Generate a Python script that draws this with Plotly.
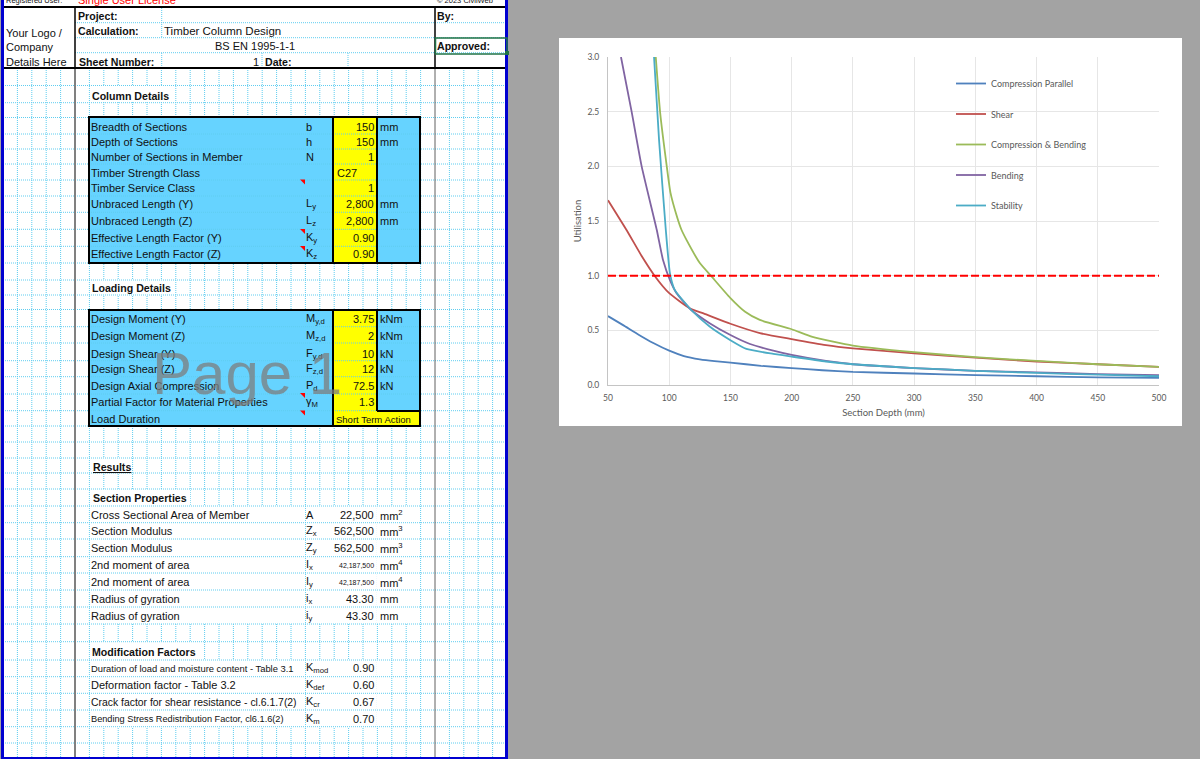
import plotly.graph_objects as go

W = 1200
H = 759

# chart data
x_axial = [50, 62, 75, 87, 100, 112, 125, 137, 150, 175, 200, 225, 250, 300, 350, 400, 450, 500]
compression_parallel = [0.63, 0.55, 0.46, 0.384, 0.314, 0.265, 0.235, 0.218, 0.205, 0.175, 0.155, 0.135, 0.12, 0.105, 0.09, 0.08, 0.07, 0.065]

x_shear = [50, 65, 78, 88, 100, 117, 128, 150, 174, 200, 228, 250, 300, 350, 400, 450, 500]
shear = [1.69, 1.42, 1.17, 1.0, 0.84, 0.70, 0.655, 0.56, 0.475, 0.42, 0.365, 0.335, 0.29, 0.25, 0.215, 0.19, 0.165]

x_comb = [89, 92.6, 98, 101, 106.6, 110, 114, 125, 134, 150, 162, 174, 200, 217, 250, 300, 350, 400, 450, 500]
compression_bending = [3.0, 2.49, 2.0, 1.76, 1.53, 1.42, 1.33, 1.115, 1.0, 0.795, 0.67, 0.595, 0.51, 0.44, 0.36, 0.30, 0.255, 0.22, 0.19, 0.165]

x_bend = [60.6, 69.3, 77.5, 89.8, 95, 100.6, 106, 118, 133, 150, 166, 185, 200, 228, 250, 300, 350, 400, 450, 500]
bending = [3.0, 2.5, 2.0, 1.42, 1.14, 0.96, 0.84, 0.686, 0.565, 0.457, 0.375, 0.314, 0.275, 0.22, 0.19, 0.155, 0.13, 0.115, 0.10, 0.09]

x_stab = [87.6, 91.7, 97.2, 100.6, 104.5, 118, 133, 150, 163, 185, 200, 228, 250, 300, 350, 400, 450, 500]
stability = [3.0, 2.24, 1.42, 1.02, 0.87, 0.686, 0.535, 0.41, 0.33, 0.285, 0.26, 0.215, 0.19, 0.155, 0.13, 0.11, 0.095, 0.08]

x_limit = [50, 500]
limit = [1.0, 1.0]

series_names = ["Compression Parallel", "Shear", "Compression & Bending", "Bending", "Stability"]
series_colors = ["#4f81bd", "#c0504d", "#9bbb59", "#8064a2", "#4bacc6"]

# sheet text
column_details = [
    ("Breadth of Sections", "b", "150", "mm", 127),
    ("Depth of Sections", "h", "150", "mm", 142),
    ("Number of Sections in Member", "N", "1", "", 157),
    ("Timber Strength Class", "", "", "", 173),
    ("Timber Service Class", "", "1", "", 188),
    ("Unbraced Length (Y)", "L<sub>y</sub>", "2,800", "mm", 204),
    ("Unbraced Length (Z)", "L<sub>z</sub>", "2,800", "mm", 221),
    ("Effective Length Factor (Y)", "K<sub>y</sub>", "0.90", "", 238),
    ("Effective Length Factor (Z)", "K<sub>z</sub>", "0.90", "", 254),
]
loading_details = [
    ("Design Moment (Y)", "M<sub>y,d</sub>", "3.75", "kNm", 319),
    ("Design Moment (Z)", "M<sub>z,d</sub>", "2", "kNm", 336),
    ("Design Shear (Y)", "F<sub>y,d</sub>", "10", "kN", 354),
    ("Design Shear (Z)", "F<sub>z,d</sub>", "12", "kN", 369),
    ("Design Axial Compression", "P<sub>d</sub>", "72.5", "kN", 386),
    ("Partial Factor for Material Properties", "γ<sub>M</sub>", "1.3", "", 402),
    ("Load Duration", "", "", "", 419),
]
section_props = [
    ("Cross Sectional Area of Member", "A", "22,500", "mm<sup>2</sup>", 515),
    ("Section Modulus", "Z<sub>x</sub>", "562,500", "mm<sup>3</sup>", 531),
    ("Section Modulus", "Z<sub>y</sub>", "562,500", "mm<sup>3</sup>", 548),
    ("2nd moment of area", "I<sub>x</sub>", "42,187,500", "mm<sup>4</sup>", 565),
    ("2nd moment of area", "I<sub>y</sub>", "42,187,500", "mm<sup>4</sup>", 582),
    ("Radius of gyration", "i<sub>x</sub>", "43.30", "mm", 599),
    ("Radius of gyration", "i<sub>y</sub>", "43.30", "mm", 616),
]
mod_factors = [
    ("Duration of load and moisture content - Table 3.1", "K<sub>mod</sub>", "0.90", 668, 9.4),
    ("Deformation factor - Table 3.2", "K<sub>def</sub>", "0.60", 685, 11),
    ("Crack factor for shear resistance - cl.6.1.7(2)", "K<sub>cr</sub>", "0.67", 702, 10.4),
    ("Bending Stress Redistribution Factor, cl6.1.6(2)", "K<sub>m</sub>", "0.70", 719, 9.2),
]
row_lines = [85.5, 102.7, 117.5, 134, 149, 164, 180, 196, 212.3, 229.3, 246.3, 263, 280, 295, 309.5,
             326.7, 343, 360.7, 376.7, 394, 410.7, 426, 442, 458, 473, 489, 506, 522.7, 539, 556.7,
             573, 590, 607, 624, 641.7, 660, 676.7, 693.3, 710, 726.7, 743]
comment_marks = [181.5, 231, 248, 395, 412.5]

GRID = "#5fcdf0"
DOT = "1px,1px"
BLUE = "#66d3ff"
YELLOW = "#ffff00"


def px(x):
    return x / W


def py(y):
    return 1 - y / H


shapes = []
annots = []


def rect(x0, y0, x1, y1, fill=None, line=None, lw=1):
    shapes.append(dict(type="rect", xref="paper", yref="paper", x0=px(x0), x1=px(x1), y0=py(y0), y1=py(y1),
                       fillcolor=fill if fill else "rgba(0,0,0,0)",
                       line=dict(color=line if line else "rgba(0,0,0,0)", width=lw if line else 0),
                       layer="below"))


def ln(x0, y0, x1, y1, color="#000000", lw=1, dash="solid"):
    shapes.append(dict(type="line", xref="paper", yref="paper", x0=px(x0), x1=px(x1), y0=py(y0), y1=py(y1),
                       line=dict(color=color, width=lw, dash=dash), layer="below"))


def txt(x, y, s, size=11, anchor="left", color="#111111", bold=False, font="Liberation Sans"):
    if bold:
        s = "<b>" + s + "</b>"
    annots.append(dict(xref="paper", yref="paper", x=px(x), y=py(y), text=s, showarrow=False,
                       xanchor=anchor, yanchor="middle", borderpad=0,
                       font=dict(family=font, size=size, color=color)))


# sheet background
rect(3, 0, 507, H, fill="#ffffff")

# vertical dotted lines
for i in range(1, 5):
    ln(3 + 14.4 * i, 68, 3 + 14.4 * i, H, GRID, 1, DOT)
for i in range(1, 25):
    ln(75 + 14.4 * i, 68, 75 + 14.4 * i, H, GRID, 1, DOT)
for i in range(1, 5):
    ln(435 + 14.4 * i, 68, 435 + 14.4 * i, H, GRID, 1, DOT)
ln(161.7, 8, 161.7, 38, GRID, 1, DOT)
ln(161.7, 53, 161.7, 68, GRID, 1, DOT)
ln(262, 53, 262, 68, GRID, 1, DOT)
ln(348, 53, 348, 68, GRID, 1, DOT)

# cells that hide the vertical dotted lines
rect(90, 86, 168, 102, fill="#ffffff")
rect(90, 280, 170, 295, fill="#ffffff")
rect(90, 458, 131, 473, fill="#ffffff")
rect(90, 489, 190, 506, fill="#ffffff")
rect(90, 642, 196, 660, fill="#ffffff")
rect(90, 506, 305, 624, fill="#ffffff")
rect(306, 506, 376, 624, fill="#ffffff")
rect(377, 506, 420, 624, fill="#ffffff")
rect(90, 660, 305, 727, fill="#ffffff")
rect(306, 660, 376, 727, fill="#ffffff")
rect(377, 660, 390, 727, fill="#ffffff")

# input boxes
rect(89, 117, 420, 263, fill=BLUE)
rect(333, 117, 377, 263, fill=YELLOW)
rect(89, 310, 420, 426, fill=BLUE)
rect(333, 310, 377, 411, fill=YELLOW)
rect(333, 411, 420, 426, fill=YELLOW)

# horizontal dotted lines
for y in row_lines:
    ln(3, y, 75, y, GRID, 1, DOT)
    ln(75, y, 507, y, GRID, 1, DOT)
for y in [22.7, 37.7, 52.7]:
    ln(75, y, 435, y, GRID, 1, DOT)
    ln(435, y, 507, y, GRID, 1, DOT)

# box borders
rect(89, 117, 420, 263, line="#000000", lw=2)
ln(333, 117, 333, 263, "#000000", 2)
ln(377, 117, 377, 263, "#000000", 2)
rect(89, 310, 420, 426, line="#000000", lw=2)
ln(333, 310, 333, 426, "#000000", 2)
ln(377, 310, 377, 411, "#000000", 2)
ln(377, 411, 420, 411, "#000000", 2)

# sheet frame
ln(75, 68, 75, H, "#808080", 2)
ln(435, 68, 435, H, "#606060", 1)
ln(3, 7, 507, 7, "#000000", 2)
ln(3, 68, 507, 68, "#000000", 2)
ln(75, 7, 75, 68, "#000000", 1.5)
ln(435, 7, 435, 68, "#000000", 1.5)
ln(2.5, 0, 2.5, H, "#0000d0", 3)
ln(506.5, 0, 506.5, H, "#0000d0", 3)
ln(3, 758, 507, 758, "#0000d0", 2)

# selected cell
rect(435.5, 38, 507, 54, line="#217346", lw=1.5)
rect(505, 51, 509, 55, fill="#217346")

# comment markers
for y in comment_marks:
    shapes.append(dict(type="path", xref="paper", yref="paper", layer="below",
                       path=f"M {px(300)} {py(y - 2)} L {px(305)} {py(y - 2)} L {px(305)} {py(y + 3)} Z",
                       fillcolor="#ff0000", line=dict(width=0)))

# chart panel
rect(559, 38, 1182, 426, fill="#ffffff")

# header text
txt(5, 1, "Registered User:", 7.5)
txt(77, 0, "Single User License", 11, color="#ff0000")
txt(436, 0, "© 2023 CivilWeb", 7.5)
txt(5, 33, "Your Logo /", 11)
txt(5, 47, "Company", 11)
txt(5, 62, "Details Here", 11)
txt(76.5, 16, "Project:", 10.6, bold=True)
txt(76.5, 31, "Calculation:", 10.6, bold=True)
txt(162.5, 31, "Timber Column Design", 11.5)
txt(255, 46, "BS EN 1995-1-1", 11, anchor="center")
txt(77.5, 62, "Sheet Number:", 10.6, bold=True)
txt(260, 62, "1", 11, anchor="right")
txt(264, 62, "Date:", 10.6, bold=True)
txt(436, 16, "By:", 10.6, bold=True)
txt(436, 46, "Approved:", 10.6, bold=True)

# section titles
txt(90.5, 96, "Column Details", 10.6, bold=True)
txt(90.5, 288, "Loading Details", 10.6, bold=True)
txt(91.5, 467, "<u>Results</u>", 10.6, bold=True)
txt(91.5, 498, "Section Properties", 10.6, bold=True)
txt(90.5, 652, "Modification Factors", 10.6, bold=True)

for label, sym, val, unit, y in column_details + loading_details + section_props:
    txt(90, y, label, 11)
    if sym:
        txt(305, y, sym, 11)
    if val:
        txt(375, y, val, 7 if val == "42,187,500" else 11, anchor="right")
    if unit:
        txt(379, y, unit, 11)
txt(335.5, 173, "C27", 11)
txt(335, 419.5, "Short Term Action", 9.5)

for label, sym, val, y, size in mod_factors:
    txt(90, y, label, size)
    txt(305, y, sym, 11)
    txt(375, y, val, 11, anchor="right")

# watermark
txt(247, 373, "Page 1", 60, anchor="center", color="rgba(125,125,125,0.75)")

fig = go.Figure()

chart_series = [
    (x_axial, compression_parallel),
    (x_shear, shear),
    (x_comb, compression_bending),
    (x_bend, bending),
    (x_stab, stability),
]
for (xs, ys), name, color in zip(chart_series, series_names, series_colors):
    fig.add_trace(go.Scatter(x=xs, y=ys, mode="lines", name=name, legendgroup=name,
                             line=dict(color=color, width=1.8, shape="spline", smoothing=0.5)))
fig.add_trace(go.Scatter(x=x_limit, y=limit, mode="lines", showlegend=False,
                         line=dict(color="#ff0000", width=2, dash="8px,3px")))

CHART_FONT = "Lato"
CHART_TEXT = "#595959"
fig.update_xaxes(domain=[px(608), px(1159)], range=[50, 500], dtick=50, tick0=50,
                 showgrid=True, gridcolor="#e6e6e6", gridwidth=1.2, zeroline=False,
                 showline=True, linecolor="#c4c4c4", linewidth=1, ticks="", ticklabelstandoff=5,
                 tickfont=dict(family=CHART_FONT, size=8.5, color=CHART_TEXT),
                 title=dict(text="Section Depth (mm)", standoff=7,
                            font=dict(family=CHART_FONT, size=9.5, color=CHART_TEXT)))
fig.update_yaxes(domain=[py(385), py(57)], range=[0, 3], dtick=0.5, tickformat=".1f",
                 showgrid=True, gridcolor="#e6e6e6", gridwidth=1.2, zeroline=False,
                 showline=True, linecolor="#c4c4c4", linewidth=1, ticks="", ticklabelstandoff=6,
                 tickfont=dict(family=CHART_FONT, size=8.5, color=CHART_TEXT),
                 title=dict(text="Utilisation", standoff=4,
                            font=dict(family=CHART_FONT, size=9.5, color=CHART_TEXT)))

fig.update_layout(
    width=W, height=H, autosize=False,
    margin=dict(l=0, r=0, t=0, b=0, autoexpand=False),
    paper_bgcolor="#a3a3a3", plot_bgcolor="#ffffff",
    shapes=shapes, annotations=annots,
    legend=dict(x=px(951), y=py(69), xanchor="left", yanchor="top", bgcolor="rgba(0,0,0,0)",
                tracegroupgap=11.5, traceorder="grouped",
                font=dict(family=CHART_FONT, size=9, color=CHART_TEXT)),
)

fig.write_html("out.html", config={"displayModeBar": False}, post_script="document.body.style.margin='0';")
